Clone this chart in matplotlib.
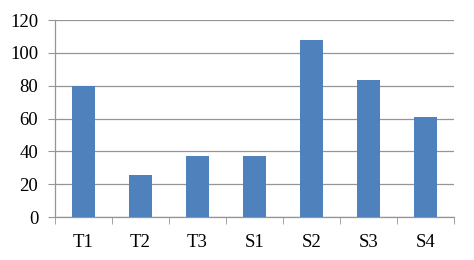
import matplotlib
matplotlib.use("Agg")
import matplotlib.pyplot as plt
import numpy as np

categories = ["T1", "T2", "T3", "S1", "S2", "S3", "S4"]
values = [80, 25.6, 37, 37, 108, 83.3, 61]
yticks = [0, 20, 40, 60, 80, 100, 120]

plt.rcParams['font.family'] = ['Liberation Serif', 'DejaVu Serif']
fig = plt.figure(figsize=(4.74, 2.60), dpi=100)
ax = fig.add_axes([55/474, 1-217/260, (454-55)/474, (217-20)/260])

x = np.arange(len(categories))
ax.bar(x, values, width=0.4, color="#4F81BD", zorder=3)
ax.set_xlim(-0.5, len(categories)-0.5)
ax.set_ylim(0, 120)
ax.set_yticks(yticks)
ax.set_yticklabels([str(v) for v in yticks])
ax.yaxis.grid(True, color="#959595", linewidth=0.9, zorder=0)
ax.set_xticks(x)
ax.set_xticklabels(categories)
ax.set_xticks(np.arange(-0.5, len(categories), 1), minor=True)
ax.tick_params(axis='x', which='major', length=0, pad=12, labelsize=13.5)
ax.tick_params(axis='x', which='minor', length=5, color="#959595", direction='out')
ax.tick_params(axis='y', length=5, color="#959595", labelsize=13.5, pad=7)
for s in ["top", "right"]:
    ax.spines[s].set_visible(False)
for s in ["left", "bottom"]:
    ax.spines[s].set_color("#959595")
    ax.spines[s].set_linewidth(0.9)
fig.savefig("out.png", dpi=100)
